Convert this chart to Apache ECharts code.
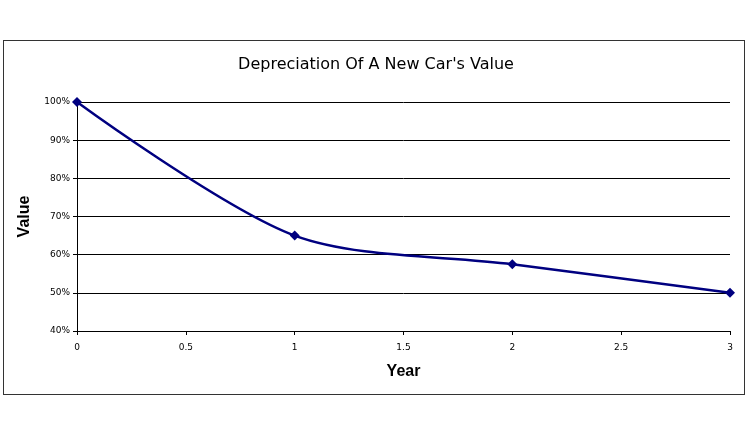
<!DOCTYPE html>
<html><head><meta charset="utf-8">
<script src="https://cdn.jsdelivr.net/npm/echarts@6/dist/echarts.min.js"></script>
<style>html,body{margin:0;padding:0;background:#fff}#c{width:752px;height:440px}
#box{position:absolute;left:3px;top:40px;width:742px;height:355px;border:1px solid #333;box-sizing:border-box;pointer-events:none}</style>
</head><body><div id="c"></div><div id="box"></div>
<script>
const years = [0, 1, 2, 3];
const values = [100, 65, 57.5, 50];
const xTicks = [0, 0.5, 1, 1.5, 2, 2.5, 3];
const chart = echarts.init(document.getElementById('c'));
chart.setOption({
  animation: false,
  title: {text: "Depreciation Of A New Car's Value", left: 'center', top: 52,
    textStyle: {fontFamily: 'Verdana, DejaVu Sans', fontWeight: 'normal', fontSize: 16, color: '#000'}},
  grid: {left: 77, right: 22, top: 102, bottom: 109},
  xAxis: {type: 'value', min: 0, max: 3, interval: 0.5,
    name: 'Year', nameLocation: 'middle', nameGap: 33,
    nameTextStyle: {fontFamily: 'Arial, Liberation Sans', fontWeight: 'bold', fontSize: 16, color: '#000'},
    axisLine: {lineStyle: {color: '#000', width: 1}},
    axisTick: {show: true, length: 4, lineStyle: {color: '#000'}},
    axisLabel: {color: '#000', fontSize: 9, fontFamily: 'Verdana, DejaVu Sans', margin: 12,
      formatter: v => xTicks.includes(v) ? String(v) : ''},
    splitLine: {show: false}},
  yAxis: {type: 'value', min: 40, max: 100, interval: 10,
    name: 'Value', nameLocation: 'middle', nameGap: 44,
    nameTextStyle: {fontFamily: 'Arial, Liberation Sans', fontWeight: 'bold', fontSize: 16, color: '#000'},
    axisLine: {show: true, lineStyle: {color: '#000', width: 1}},
    axisTick: {show: true, length: 4, lineStyle: {color: '#000'}},
    axisLabel: {color: '#000', fontSize: 9, fontFamily: 'Verdana, DejaVu Sans', margin: 7, formatter: '{value}%'},
    splitLine: {show: true, lineStyle: {color: '#000', width: 1}}},
  series: [{type: 'line', data: years.map((y, i) => [y, values[i]]),
    smooth: 0.3, symbol: 'diamond', symbolSize: 10,
    lineStyle: {color: '#000080', width: 2.5}, itemStyle: {color: '#000080'}}]
});
</script></body></html>
